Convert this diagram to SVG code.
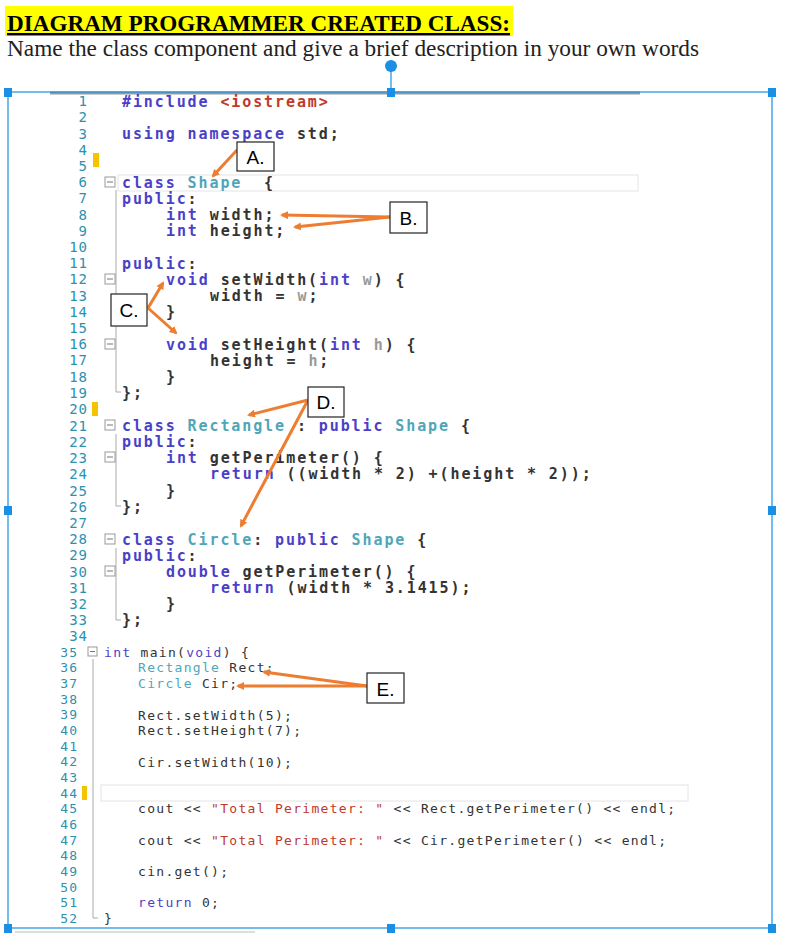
<svg xmlns="http://www.w3.org/2000/svg" width="801" height="934" viewBox="0 0 801 934">
<defs>
<marker id="ah" markerWidth="8" markerHeight="8" refX="6" refY="4" orient="auto" markerUnits="userSpaceOnUse"><path d="M0,0 L8,4 L0,8 z" fill="#ed7d31"/></marker>
</defs>
<style>
.c{font-family:"DejaVu Sans Mono","Liberation Mono",monospace;font-size:15px;letter-spacing:1.9px;font-weight:bold;fill:#333}
.s{font-family:"DejaVu Sans Mono","Liberation Mono",monospace;font-size:13px;letter-spacing:1.3px;fill:#333}
.n{font-family:"DejaVu Sans Mono","Liberation Mono",monospace;font-size:14px;letter-spacing:1px;fill:#2b91af;text-anchor:end}
.m{font-size:13px}
.k{fill:#4b3fc8}.t{fill:#4fa6b8}.g{fill:#999}.r{fill:#c0392b}
.lbl rect{fill:#fff;stroke:#222;stroke-width:1.2}
.lbl text{font-family:"Liberation Sans",Arial,sans-serif;font-size:19px;fill:#000;text-anchor:middle}
.ar{stroke:#ed7d31;stroke-width:3;fill:none;marker-end:url(#ah)}
.sel{stroke:#1a8fe3;stroke-width:1.2;fill:none}
.h{fill:#1a8fe3}
.fold{fill:#fff;stroke:#999;stroke-width:1}
</style>
<rect width="801" height="934" fill="#fff"/>
<rect x="5" y="6" width="508" height="30" fill="#ffff00"/>
<text x="7" y="31" font-family="Liberation Serif,serif" font-size="24" font-weight="bold" text-decoration="underline" textLength="503" lengthAdjust="spacingAndGlyphs">DIAGRAM PROGRAMMER CREATED CLASS:</text>
<text x="7" y="56" font-family="Liberation Serif,serif" font-size="23" fill="#222" textLength="692" lengthAdjust="spacingAndGlyphs">Name the class component and give a brief description in your own words</text>

<g id="selection">
<line x1="50" y1="93" x2="640" y2="93" stroke="#999" stroke-width="3"/>
<rect class="sel" x="8" y="92" width="764" height="836"/>
<line class="sel" x1="391" y1="68" x2="391" y2="92"/>
<circle class="h" cx="391" cy="66" r="6"/>
<rect class="h" x="4" y="88" width="8" height="9"/><rect class="h" x="387" y="88" width="8" height="9"/><rect class="h" x="768" y="88" width="8" height="9"/>
<rect class="h" x="4" y="506" width="8" height="9"/><rect class="h" x="768" y="506" width="8" height="9"/>
<rect class="h" x="4" y="924" width="8" height="9"/><rect class="h" x="387" y="924" width="8" height="9"/><rect class="h" x="768" y="924" width="8" height="9"/>
<line x1="15" y1="932" x2="255" y2="932" stroke="#bbb" stroke-width="1"/>
</g>

<g id="editor">
<rect x="118" y="175" width="520" height="16" fill="none" stroke="#e4e4e4"/>
<rect x="101" y="785" width="587" height="16" fill="none" stroke="#e4e4e4"/>
<rect x="93" y="153" width="6" height="14" fill="#f5c400"/>
<rect x="92" y="402" width="6" height="14" fill="#f5c400"/>
<rect x="82" y="786" width="5" height="14" fill="#f5c400"/>
<g stroke="#aaa" stroke-width="1">
<line x1="116" y1="190" x2="116" y2="392"/><line x1="116" y1="392" x2="121" y2="392"/>
<line x1="116" y1="434" x2="116" y2="506"/><line x1="116" y1="506" x2="121" y2="506"/>
<line x1="116" y1="548" x2="116" y2="620"/><line x1="116" y1="620" x2="121" y2="620"/>
<line x1="93" y1="659" x2="93" y2="918"/><line x1="93" y1="918" x2="98" y2="918"/>
</g>
<g>
<rect class="fold" x="105" y="177" width="10" height="10"/><rect class="fold" x="105" y="274" width="10" height="10"/><rect class="fold" x="105" y="339" width="10" height="10"/>
<rect class="fold" x="105" y="420" width="10" height="10"/><rect class="fold" x="105" y="452" width="10" height="10"/><rect class="fold" x="105" y="534" width="10" height="10"/><rect class="fold" x="105" y="566" width="10" height="10"/>
<rect class="fold" x="88" y="647" width="9" height="9"/>
</g>
<g stroke="#777" stroke-width="1"><path d="M107,182h6M107,279h6M107,344h6M107,425h6M107,457h6M107,539h6M107,571h6M90,651.5h5"/></g>

<g>
<text class="n" x="88" y="106">1</text><text class="n" x="88" y="122">2</text><text class="n" x="88" y="139">3</text><text class="n" x="88" y="155">4</text><text class="n" x="88" y="171">5</text><text class="n" x="88" y="187">6</text><text class="n" x="88" y="203">7</text><text class="n" x="88" y="220">8</text><text class="n" x="88" y="236">9</text><text class="n" x="88" y="252">10</text><text class="n" x="88" y="268">11</text><text class="n" x="88" y="284">12</text><text class="n" x="88" y="301">13</text><text class="n" x="88" y="317">14</text><text class="n" x="88" y="333">15</text><text class="n" x="88" y="349">16</text><text class="n" x="88" y="365">17</text><text class="n" x="88" y="382">18</text><text class="n" x="88" y="398">19</text><text class="n" x="88" y="414">20</text>
<text class="n" x="88" y="431">21</text><text class="n" x="88" y="447">22</text><text class="n" x="88" y="463">23</text><text class="n" x="88" y="479">24</text><text class="n" x="88" y="496">25</text><text class="n" x="88" y="512">26</text><text class="n" x="88" y="528">27</text><text class="n" x="88" y="544">28</text><text class="n" x="88" y="560">29</text><text class="n" x="88" y="577">30</text><text class="n" x="88" y="593">31</text><text class="n" x="88" y="609">32</text><text class="n" x="88" y="625">33</text><text class="n" x="88" y="641">34</text>
<text class="n m" x="78" y="657">35</text><text class="n m" x="78" y="672">36</text><text class="n m" x="78" y="688">37</text><text class="n m" x="78" y="704">38</text><text class="n m" x="78" y="719">39</text><text class="n m" x="78" y="735">40</text><text class="n m" x="78" y="751">41</text><text class="n m" x="78" y="766">42</text><text class="n m" x="78" y="782">43</text><text class="n m" x="78" y="798">44</text><text class="n m" x="78" y="813">45</text><text class="n m" x="78" y="829">46</text><text class="n m" x="78" y="845">47</text><text class="n m" x="78" y="860">48</text><text class="n m" x="78" y="876">49</text><text class="n m" x="78" y="892">50</text><text class="n m" x="78" y="907">51</text><text class="n m" x="78" y="923">52</text>
</g>

<g>
<text class="c" x="122" y="107"><tspan class="k">#include</tspan> <tspan class="r">&lt;iostream&gt;</tspan></text>
<text class="c" x="122" y="139"><tspan class="k">using namespace</tspan> std;</text>
<text class="c" x="122" y="188" xml:space="preserve"><tspan class="k">class</tspan> <tspan class="t">Shape</tspan>  {</text>
<text class="c" x="122" y="204"><tspan class="k">public</tspan>:</text>
<text class="c" x="166" y="220"><tspan class="k">int</tspan> width;</text>
<text class="c" x="166" y="236"><tspan class="k">int</tspan> height;</text>
<text class="c" x="122" y="269"><tspan class="k">public</tspan>:</text>
<text class="c" x="166" y="285"><tspan class="k">void</tspan> setWidth(<tspan class="k">int</tspan> <tspan class="g">w</tspan>) {</text>
<text class="c" x="210" y="301">width = <tspan class="g">w</tspan>;</text>
<text class="c" x="166" y="317">}</text>
<text class="c" x="166" y="350"><tspan class="k">void</tspan> setHeight(<tspan class="k">int</tspan> <tspan class="g">h</tspan>) {</text>
<text class="c" x="210" y="366">height = <tspan class="g">h</tspan>;</text>
<text class="c" x="166" y="382">}</text>
<text class="c" x="122" y="398">};</text>
<text class="c" x="122" y="431"><tspan class="k">class</tspan> <tspan class="t">Rectangle</tspan> : <tspan class="k">public</tspan> <tspan class="t">Shape</tspan> {</text>
<text class="c" x="122" y="447"><tspan class="k">public</tspan>:</text>
<text class="c" x="166" y="463"><tspan class="k">int</tspan> getPerimeter() {</text>
<text class="c" x="210" y="479"><tspan class="k">return</tspan> ((width * 2) +(height * 2));</text>
<text class="c" x="166" y="496">}</text>
<text class="c" x="122" y="512">};</text>
<text class="c" x="122" y="545"><tspan class="k">class</tspan> <tspan class="t">Circle</tspan>: <tspan class="k">public</tspan> <tspan class="t">Shape</tspan> {</text>
<text class="c" x="122" y="561"><tspan class="k">public</tspan>:</text>
<text class="c" x="166" y="577"><tspan class="k">double</tspan> getPerimeter() {</text>
<text class="c" x="210" y="593"><tspan class="k">return</tspan> (width * 3.1415);</text>
<text class="c" x="166" y="609">}</text>
<text class="c" x="122" y="625">};</text>
<text class="s" x="104" y="657"><tspan class="k">int</tspan> main(<tspan class="k">void</tspan>) {</text>
<text class="s" x="138" y="672"><tspan class="t">Rectangle</tspan> Rect;</text>
<text class="s" x="138" y="688"><tspan class="t">Circle</tspan> Cir;</text>
<text class="s" x="138" y="720">Rect.setWidth(5);</text>
<text class="s" x="138" y="735">Rect.setHeight(7);</text>
<text class="s" x="138" y="767">Cir.setWidth(10);</text>
<text class="s" x="138" y="813">cout &lt;&lt; <tspan class="r">"Total Perimeter: "</tspan> &lt;&lt; Rect.getPerimeter() &lt;&lt; endl;</text>
<text class="s" x="138" y="845">cout &lt;&lt; <tspan class="r">"Total Perimeter: "</tspan> &lt;&lt; Cir.getPerimeter() &lt;&lt; endl;</text>
<text class="s" x="138" y="876">cin.get();</text>
<text class="s" x="138" y="907"><tspan class="k">return</tspan> 0;</text>
<text class="s" x="104" y="923">}</text>
</g>
</g>

<g id="connectors">
<line class="ar" x1="237" y1="150" x2="213" y2="176"/>
<line class="ar" x1="390" y1="217" x2="282" y2="215"/>
<line class="ar" x1="390" y1="217" x2="295" y2="227"/>
<line class="ar" x1="148" y1="308" x2="163" y2="283"/>
<line class="ar" x1="148" y1="308" x2="176" y2="333"/>
<line class="ar" x1="308" y1="400" x2="249" y2="415"/>
<line class="ar" x1="308" y1="400" x2="241" y2="526"/>
<line class="ar" x1="367" y1="686" x2="264" y2="672"/>
<line class="ar" x1="367" y1="686" x2="238" y2="686"/>
</g>

<g id="label-A" class="lbl"><rect x="237" y="142" width="37" height="29"/><text x="255.5" y="164">A.</text></g>
<g id="label-B" class="lbl"><rect x="390" y="202" width="37" height="31"/><text x="408.5" y="225">B.</text></g>
<g id="label-C" class="lbl"><rect x="111" y="294" width="36" height="32"/><text x="129" y="317">C.</text></g>
<g id="label-D" class="lbl"><rect x="308" y="387" width="36" height="30"/><text x="326" y="409">D.</text></g>
<g id="label-E" class="lbl"><rect x="367" y="673" width="37" height="30"/><text x="385.5" y="696">E.</text></g>
</svg>
